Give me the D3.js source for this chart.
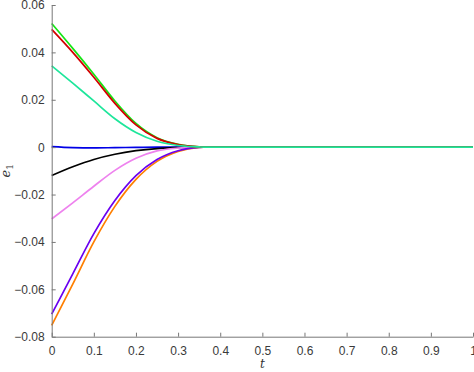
<!DOCTYPE html>
<html>
<head>
<meta charset="utf-8">
<script src="https://cdn.jsdelivr.net/npm/d3@7"></script>
<style>
  html, body { margin: 0; padding: 0; background: #fff; }
  svg { display: block; }
  .tick text { font-family: "Liberation Sans", Arial, sans-serif; font-size: 12px; fill: #3a3a3a; }
</style>
</head>
<body>
<svg id="canvas" width="474" height="372"></svg>
<script>
'use strict';

/* sample times */
const times = [0, 0.05, 0.1, 0.15, 0.2, 0.25, 0.3, 0.35, 0.36, 1];

/* error trajectories e1, one list per agent */
const eGreen  = [0.0522, 0.0417, 0.0308, 0.0195, 0.0100, 0.0040, 0.0012, 0.0001, 0, 0];
const eRed    = [0.0497, 0.0400, 0.0295, 0.0185, 0.0094, 0.0037, 0.0011, 0.0001, 0, 0];
const eBlue   = [0.0002, -0.0002, -0.0003, -0.0002, -0.0001, 0, 0, 0, 0, 0];
const eBlack  = [-0.0120, -0.0083, -0.0052, -0.0030, -0.0015, -0.0006, -0.0002, 0, 0, 0];
const eViolet = [-0.0303, -0.0235, -0.0165, -0.0098, -0.0047, -0.0016, -0.0004, 0, 0, 0];
const ePurple = [-0.0705, -0.0535, -0.0365, -0.0225, -0.0120, -0.0052, -0.0015, -0.0001, 0, 0];
const eOrange = [-0.0752, -0.0578, -0.0400, -0.0250, -0.0136, -0.0060, -0.0018, -0.0001, 0, 0];
const eSpring = [0.0343, 0.0270, 0.0195, 0.0120, 0.0062, 0.0025, 0.0007, 0.0001, 0, 0];

/* axis ticks */
const xTicks = [0, 0.1, 0.2, 0.3, 0.4, 0.5, 0.6, 0.7, 0.8, 0.9, 1];
const yTicks = [-0.08, -0.06, -0.04, -0.02, 0, 0.02, 0.04, 0.06];

/* drawing order: last one ends on top */
const series = [
  {values: eBlue,   color: '#0000e6'},
  {values: eBlack,  color: '#000000'},
  {values: eViolet, color: '#ee82ee'},
  {values: eOrange, color: '#ff7f00'},
  {values: ePurple, color: '#6a00f0'},
  {values: eGreen,  color: '#14e614'},
  {values: eRed,    color: '#d40000'},
  {values: eSpring, color: '#1ee69b'}
];

/* plot area in pixels */
const margin = {left: 51.7, right: 473, top: 5, bottom: 336.7};

let x = d3.scaleLinear().domain([0, 1]).range([margin.left, margin.right]);
let y = d3.scaleLinear().domain([-0.08, 0.06]).range([margin.bottom, margin.top]);

let svg = d3.select('svg#canvas');

/* the curves */
let line = d3.line()
  .x(d => x(d[0]))
  .y(d => y(d[1]))
  .curve(d3.curveMonotoneX);

svg.append('g').attr('id', 'curves')
  .selectAll('path')
  .data(series)
  .enter().append('path')
    .attr('d', s => line(times.map((t, i) => [t, s.values[i]])))
    .attr('fill', 'none')
    .attr('stroke', s => s.color)
    .attr('stroke-width', 1.7)
    .attr('stroke-linejoin', 'round');

/* axes, ticks pointing inwards like matlab */
let fmt = v => (v === 0 ? '0' : d3.format('~g')(+v.toFixed(2)));

let gx = svg.append('g')
  .attr('transform', 'translate(0,' + margin.bottom + ')')
  .call(d3.axisBottom(x).tickValues(xTicks).tickFormat(fmt)
    .tickSizeInner(-4).tickSizeOuter(0).tickPadding(10));

let gy = svg.append('g')
  .attr('transform', 'translate(' + margin.left + ',0)')
  .call(d3.axisLeft(y).tickValues(yTicks).tickFormat(fmt)
    .tickSizeInner(-4).tickSizeOuter(0).tickPadding(7));

[gx, gy].forEach(g => {
  g.select('.domain').attr('stroke', '#777').attr('stroke-width', 1);
  g.selectAll('.tick line').attr('stroke', '#777');
});

/* axis titles */
svg.append('text')
  .attr('x', (margin.left + margin.right) / 2)
  .attr('y', 368)
  .attr('text-anchor', 'middle')
  .style('font-family', '"DejaVu Serif", "Liberation Serif", serif')
  .style('font-style', 'italic')
  .style('font-size', '12px')
  .attr('fill', '#333')
  .text('t');

let ylab = svg.append('text')
  .attr('transform', 'translate(10,' + ((margin.top + margin.bottom) / 2) + ') rotate(-90)')
  .attr('text-anchor', 'middle')
  .style('font-family', '"DejaVu Serif", "Liberation Serif", serif')
  .style('font-style', 'italic')
  .style('font-size', '13px')
  .attr('fill', '#333');
ylab.append('tspan').text('e');
ylab.append('tspan').attr('dy', 3).style('font-size', '9px').style('font-style', 'normal').text('1');
</script>
</body>
</html>
